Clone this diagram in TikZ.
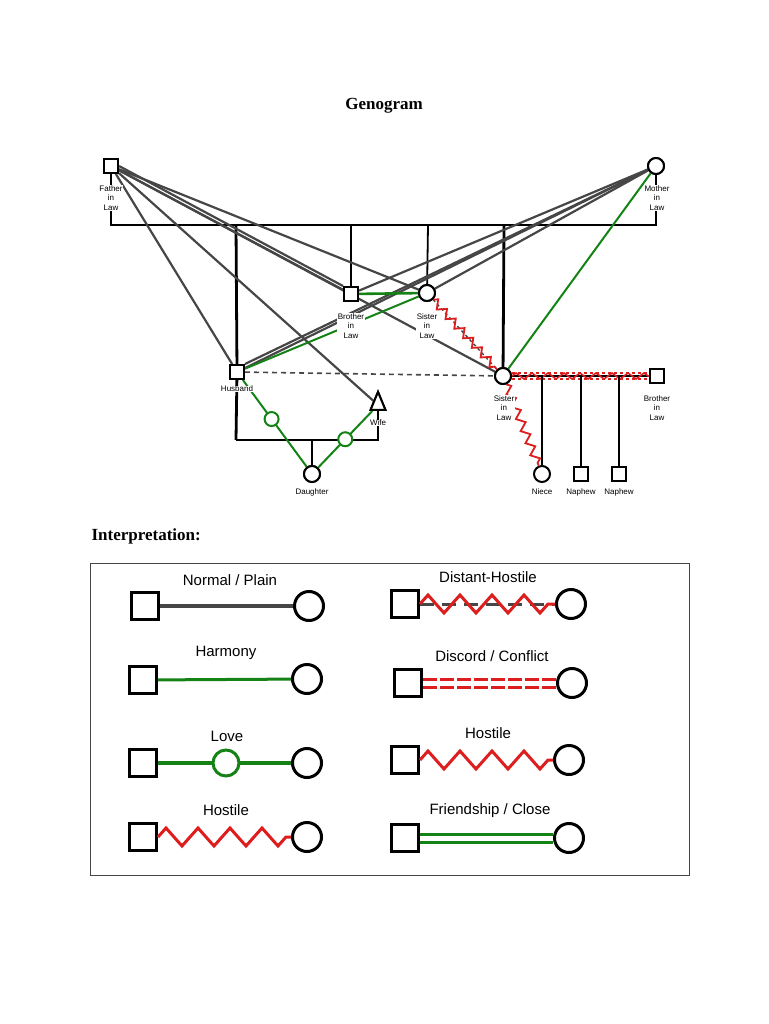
\documentclass[tikz,border=0pt]{standalone}
\usepackage{fontspec}
\setmainfont{Liberation Serif}
\newfontfamily\sans{Liberation Sans}
\usetikzlibrary{decorations.pathmorphing,shapes.geometric}
\definecolor{gline}{RGB}{70,70,70}
\definecolor{ggreen}{RGB}{20,130,20}
\definecolor{rred}{RGB}{220,30,30}
\begin{document}
\begin{tikzpicture}[x=1pt,y=-1pt,
  m/.style={draw,line width=2pt,fill=white,minimum size=14pt,inner sep=0pt},
  sq/.style={m,rectangle},
  ci/.style={m,circle,minimum width=14pt,minimum height=16pt},
  lab/.style={font=\sans\fontsize{8}{9.5}\selectfont,align=center,fill=white,inner sep=0.5pt},
  rel/.style={gline,line width=2.2pt},
  harm/.style={ggreen,line width=2pt},
  fam/.style={black,line width=1.8pt},
  zz/.style={rred,line width=1.8pt,decorate,decoration={zigzag,amplitude=4pt,segment length=13pt}},
  lsq/.style={draw,line width=3pt,rectangle,minimum size=27pt,inner sep=0pt,fill=white},
  lci/.style={draw,line width=3pt,circle,minimum size=29pt,inner sep=0pt,fill=white},
  ltx/.style={font=\sans\fontsize{15}{15}\selectfont},
  lz/.style={rred,line width=3pt,decorate,decoration={zigzag,amplitude=9pt,segment length=32pt}}
]
\useasboundingbox (0,0) rectangle (768,1024);
\node[font=\bfseries\fontsize{17}{17}\selectfont] (title) at (384,106) {Genogram};
\node[font=\bfseries\fontsize{17}{17}\selectfont,anchor=west] (interp) at (88,536) {Interpretation:};

% family structure
\coordinate (hl) at (111,225); \coordinate (hr) at (656,225);
\draw[fam] (111,173) -- (hl) -- (hr) -- (656,173);
\node[sq] (fil) at (111,166) {};
\node[ci] (mil) at (656,166) {};
\node[sq] (bro) at (351,294) {};
\node[ci] (sis) at (427,293) {};
\node[sq] (hus) at (237,372) {};
\node[draw,line width=2pt,isosceles triangle,shape border rotate=90,minimum width=13pt,minimum height=18pt,inner sep=0pt,fill=white] (wife) at (378,405) {};
\node[ci] (dau) at (312,474) {};
\node[ci] (sil) at (503,376) {};
\node[sq] (bil) at (657,376) {};
\node[ci] (nie) at (542,474) {};
\node[sq] (na1) at (581,474) {};
\node[sq] (na2) at (619,474) {};

\draw[line width=2.8pt] (236,225) -- (hus);
\draw[fam] (351,225) -- (bro);
\draw[fam] (428,225) -- (sis);
\draw[line width=2.8pt] (504,225) -- (sil);
\coordinate (ml) at (236,440); \coordinate (mr) at (378,440);
\draw[line width=2.8pt] (hus) -- (ml);
\draw[fam] (ml) -- (mr) -- (wife.south);
\draw[fam] (312,440) -- (dau);

% relations
\draw[rel] (fil) -- (hus);
\draw[rel] (fil) -- (wife);
\draw[rel] (fil) -- (bro);
\draw[rel] (fil.east) -- (bro.north west);
\draw[rel] (fil) -- (sis);
\draw[rel] (fil) -- (sil);
\draw[rel] (mil) -- (hus);
\draw[rel] (mil) -- (hus.north east);
\draw[rel] (mil) -- (bro);
\draw[rel] (mil) -- (sis);
\draw[harm] (mil) -- (sil);
\draw[harm,line width=2.6pt] (bro) -- (sis);
\draw[harm] (sis) -- (hus);
\draw[gline,line width=1.6pt,dash pattern=on 5pt off 4pt] (hus) -- (sil);
\draw[gline,line width=1.4pt,dashed] (sis) -- (sil);
\draw[zz] (sis) -- (sil);
\draw[zz] (sil) -- (nie);
\draw[fam] (sil) -- (bil);
\draw[rred,line width=1.6pt,dashed] ([yshift=-3pt]sil.east) -- ([yshift=-3pt]bil.west);
\draw[rred,line width=1.6pt,dashed] ([yshift=3pt]sil.east) -- ([yshift=3pt]bil.west);
\draw[rred,line width=1.6pt,decorate,decoration={zigzag,amplitude=3pt,segment length=16pt}] (sil) -- (bil);
\draw[line width=2.8pt] (542,376) -- (nie);
\draw[line width=2.8pt] (581,376) -- (na1);
\draw[line width=2.8pt] (619,376) -- (na2);
\draw[harm] (hus) -- node[ci,draw=ggreen,minimum width=11pt,minimum height=14pt,pos=0.45] (l1) {} (dau);
\draw[harm] (wife) -- node[ci,draw=ggreen,minimum width=11pt,minimum height=14pt,pos=0.5] (l2) {} (dau);
\node[sq] at (bro) {}; \node[ci] at (sis) {}; \node[sq] at (hus) {};
\node[ci] at (sil) {}; \node[sq] at (bil) {}; \node[ci] at (dau) {};
\node[draw,line width=2pt,isosceles triangle,shape border rotate=90,minimum width=13pt,minimum height=18pt,inner sep=0pt,fill=white] at (wife) {};
\node[ci] at (mil) {}; \node[sq] at (fil) {};

% labels
\node[lab] (tfil) at (111,198) {Father\\in\\Law};
\node[lab] (tmil) at (657,198) {Mother\\in\\Law};
\node[lab] (tbro) at (351,326) {Brother\\in\\Law};
\node[lab] (tsis) at (427,326) {Sister\\in\\Law};
\node[lab] (thus) at (237,389) {Husband};
\node[lab] (twife) at (378,423) {Wife};
\node[lab] (tdau) at (312,492) {Daughter};
\node[lab] (tsil) at (504,408) {Sister\\in\\Law};
\node[lab] (tbil) at (657,408) {Brother\\in\\Law};
\node[lab] (tnie) at (542,492) {Niece};
\node[lab] (tna1) at (581,492) {Naphew};
\node[lab] (tna2) at (619,492) {Naphew};

% legend
\draw[gline,line width=1pt] (90,563) rectangle (689,875);
% left column
\node[lsq] (a1) at (145,606) {}; \node[lci] (b1) at (309,606) {};
\draw[gline,line width=3.5pt] (a1) -- (b1);
\node[ltx] at (230,580) {Normal / Plain};
\node[lsq] (a2) at (143,680) {}; \node[lci] (b2) at (307,679) {};
\draw[ggreen,line width=3pt] (a2) -- (b2);
\node[ltx] at (226,653) {Harmony};
\node[lsq] (a3) at (143,763) {}; \node[lci] (b3) at (307,763) {};
\draw[ggreen,line width=3.5pt] (a3) -- (b3);
\node[lci,draw=ggreen,minimum size=26pt] (c3) at (226,763) {};
\node[ltx] at (227,736) {Love};
\node[lsq] (a4) at (143,837) {}; \node[lci] (b4) at (307,837) {};
\draw[lz] (a4) -- (b4);
\node[ltx] at (226,810) {Hostile};
% right column
\node[lsq] (a5) at (405,604) {}; \node[lci] (b5) at (571,604) {};
\draw[gline,line width=3pt,dash pattern=on 14pt off 8pt] (a5) -- (b5);
\draw[lz] (a5) -- (b5);
\node[ltx] at (488,577) {Distant-Hostile};
\node[lsq] (a6) at (408,683) {}; \node[lci] (b6) at (572,683) {};
\draw[rred,line width=3pt,dash pattern=on 14pt off 3pt] ([yshift=-4pt]a6.east) -- ([yshift=-4pt]b6.west);
\draw[rred,line width=3pt,dash pattern=on 14pt off 3pt] ([yshift=4pt]a6.east) -- ([yshift=4pt]b6.west);
\node[ltx] at (492,656) {Discord / Conflict};
\node[lsq] (a7) at (405,760) {}; \node[lci] (b7) at (569,760) {};
\draw[lz] (a7) -- (b7);
\node[ltx] at (488,733) {Hostile};
\node[lsq] (a8) at (405,838) {}; \node[lci] (b8) at (569,838) {};
\draw[ggreen,line width=3pt] ([yshift=-4pt]a8.east) -- ([yshift=-4pt]b8.west);
\draw[ggreen,line width=3pt] ([yshift=4pt]a8.east) -- ([yshift=4pt]b8.west);
\node[ltx] at (490,811) {Friendship / Close};
\end{tikzpicture}
\end{document}
